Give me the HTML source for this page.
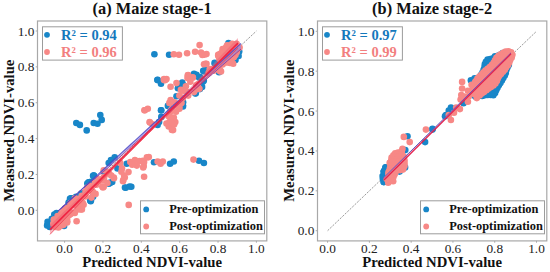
<!DOCTYPE html>
<html><head><meta charset="utf-8"><style>
html,body{margin:0;padding:0;background:#fff;}
svg{display:block;}
text{font-family:"Liberation Serif",serif;}
.tk{font-size:13.3px;fill:#222;}
.ti{font-size:16.4px;font-weight:bold;fill:#111;}
.al{font-size:14.7px;font-weight:bold;fill:#111;}
.lg{font-size:14.5px;font-weight:bold;}
.lp{font-size:12.4px;font-weight:bold;fill:#111;}
</style></head><body>
<svg width="550" height="272" viewBox="0 0 550 272">
<clipPath id="c0"><rect x="37.5" y="21.0" width="229.3" height="219.9"/></clipPath>
<g clip-path="url(#c0)">
<line x1="64.60" y1="210.30" x2="256.40" y2="31.00" stroke="#707070" stroke-width="0.7" stroke-dasharray="2.2,1.2"/>
<circle cx="228.5" cy="43.1" r="3.3" fill="#1886c8"/>
<circle cx="239.2" cy="51.5" r="3.3" fill="#1886c8"/>
<circle cx="238.6" cy="56" r="3.3" fill="#1886c8"/>
<circle cx="235.5" cy="60" r="3.3" fill="#1886c8"/>
<circle cx="214.6" cy="62.9" r="3.3" fill="#1886c8"/>
<circle cx="206.5" cy="70.3" r="3.3" fill="#1886c8"/>
<circle cx="169.1" cy="54.7" r="3.3" fill="#1886c8"/>
<circle cx="154.4" cy="54.3" r="3.3" fill="#1886c8"/>
<circle cx="203.2" cy="70.9" r="3.3" fill="#1886c8"/>
<circle cx="193.7" cy="75.3" r="3.3" fill="#1886c8"/>
<circle cx="200.3" cy="77.5" r="3.3" fill="#1886c8"/>
<circle cx="157.6" cy="79.7" r="3.3" fill="#1886c8"/>
<circle cx="157.4" cy="80.1" r="3.3" fill="#1886c8"/>
<circle cx="161" cy="83.8" r="3.3" fill="#1886c8"/>
<circle cx="161" cy="110.3" r="3.3" fill="#1886c8"/>
<circle cx="194" cy="73.7" r="3.3" fill="#1886c8"/>
<circle cx="199.1" cy="77.4" r="3.3" fill="#1886c8"/>
<circle cx="205" cy="71.5" r="3.3" fill="#1886c8"/>
<circle cx="202.8" cy="81.8" r="3.3" fill="#1886c8"/>
<circle cx="202.1" cy="86.9" r="3.3" fill="#1886c8"/>
<circle cx="199.9" cy="89.1" r="3.3" fill="#1886c8"/>
<circle cx="195.4" cy="93.5" r="3.3" fill="#1886c8"/>
<circle cx="182.2" cy="82.5" r="3.3" fill="#1886c8"/>
<circle cx="182.9" cy="84.7" r="3.3" fill="#1886c8"/>
<circle cx="182.9" cy="105.3" r="3.3" fill="#1886c8"/>
<circle cx="219" cy="72.2" r="3.3" fill="#1886c8"/>
<circle cx="183" cy="106.5" r="3.3" fill="#1886c8"/>
<circle cx="214.9" cy="63.8" r="3.3" fill="#1886c8"/>
<circle cx="204.6" cy="70.4" r="3.3" fill="#1886c8"/>
<circle cx="200.1" cy="77.1" r="3.3" fill="#1886c8"/>
<circle cx="196.5" cy="74.9" r="3.3" fill="#1886c8"/>
<circle cx="195.7" cy="93.2" r="3.3" fill="#1886c8"/>
<circle cx="203.8" cy="80.7" r="3.3" fill="#1886c8"/>
<circle cx="181.6" cy="84.6" r="3.3" fill="#1886c8"/>
<circle cx="184.6" cy="86" r="3.3" fill="#1886c8"/>
<circle cx="177.9" cy="88.2" r="3.3" fill="#1886c8"/>
<circle cx="176.5" cy="96.3" r="3.3" fill="#1886c8"/>
<circle cx="183.1" cy="102.2" r="3.3" fill="#1886c8"/>
<circle cx="168.4" cy="105.9" r="3.3" fill="#1886c8"/>
<circle cx="161.3" cy="110.3" r="3.3" fill="#1886c8"/>
<circle cx="161.3" cy="116.9" r="3.3" fill="#1886c8"/>
<circle cx="159.1" cy="122.1" r="3.3" fill="#1886c8"/>
<circle cx="157.6" cy="125" r="3.3" fill="#1886c8"/>
<circle cx="167.9" cy="105.9" r="3.3" fill="#1886c8"/>
<circle cx="154" cy="162.2" r="3.3" fill="#1886c8"/>
<circle cx="170.1" cy="163.7" r="3.3" fill="#1886c8"/>
<circle cx="173.8" cy="161.5" r="3.3" fill="#1886c8"/>
<circle cx="199" cy="160.7" r="3.3" fill="#1886c8"/>
<circle cx="203.9" cy="163" r="3.3" fill="#1886c8"/>
<circle cx="126.7" cy="163.8" r="3.3" fill="#1886c8"/>
<circle cx="125.7" cy="187.7" r="3.3" fill="#1886c8"/>
<circle cx="131.3" cy="186.8" r="3.3" fill="#1886c8"/>
<circle cx="110.1" cy="183.1" r="3.3" fill="#1886c8"/>
<circle cx="114.7" cy="157.4" r="3.3" fill="#1886c8"/>
<circle cx="111" cy="160.1" r="3.3" fill="#1886c8"/>
<circle cx="117.5" cy="168.4" r="3.3" fill="#1886c8"/>
<circle cx="108.7" cy="163" r="3.3" fill="#1886c8"/>
<circle cx="93.8" cy="175.5" r="3.3" fill="#1886c8"/>
<circle cx="90.1" cy="182" r="3.3" fill="#1886c8"/>
<circle cx="84.6" cy="193" r="3.3" fill="#1886c8"/>
<circle cx="91" cy="200.3" r="3.3" fill="#1886c8"/>
<circle cx="93.8" cy="194.8" r="3.3" fill="#1886c8"/>
<circle cx="109.4" cy="182.9" r="3.3" fill="#1886c8"/>
<circle cx="112.2" cy="182" r="3.3" fill="#1886c8"/>
<circle cx="125" cy="187.5" r="3.3" fill="#1886c8"/>
<circle cx="129.6" cy="186.5" r="3.3" fill="#1886c8"/>
<circle cx="93.1" cy="175.8" r="3.3" fill="#1886c8"/>
<circle cx="76.3" cy="123" r="3.3" fill="#1886c8"/>
<circle cx="79.9" cy="124.9" r="3.3" fill="#1886c8"/>
<circle cx="86.7" cy="130.4" r="3.3" fill="#1886c8"/>
<circle cx="93.7" cy="123" r="3.3" fill="#1886c8"/>
<circle cx="97.5" cy="123.8" r="3.3" fill="#1886c8"/>
<circle cx="100.3" cy="115" r="3.3" fill="#1886c8"/>
<circle cx="101.7" cy="119.9" r="3.3" fill="#1886c8"/>
<circle cx="47.6" cy="221.8" r="3.3" fill="#1886c8"/>
<circle cx="47.1" cy="225.4" r="3.3" fill="#1886c8"/>
<circle cx="49.7" cy="226.9" r="3.3" fill="#1886c8"/>
<circle cx="51.8" cy="218.9" r="3.3" fill="#1886c8"/>
<circle cx="54.3" cy="214.6" r="3.3" fill="#1886c8"/>
<circle cx="56.5" cy="213.1" r="3.3" fill="#1886c8"/>
<circle cx="64.9" cy="208.8" r="3.3" fill="#1886c8"/>
<circle cx="68.6" cy="202.5" r="3.3" fill="#1886c8"/>
<circle cx="64.1" cy="225.9" r="3.3" fill="#1886c8"/>
<circle cx="70" cy="198.9" r="3.3" fill="#1886c8"/>
<circle cx="70.8" cy="198.2" r="3.3" fill="#1886c8"/>
<circle cx="72" cy="198.3" r="3.3" fill="#1886c8"/>
<circle cx="76" cy="196.7" r="3.3" fill="#1886c8"/>
<circle cx="81.4" cy="193.5" r="3.3" fill="#1886c8"/>
<circle cx="82" cy="195.3" r="3.3" fill="#1886c8"/>
<circle cx="84.6" cy="193" r="3.3" fill="#1886c8"/>
<circle cx="90.2" cy="200.6" r="3.3" fill="#1886c8"/>
<circle cx="90.7" cy="201.2" r="3.3" fill="#1886c8"/>
<circle cx="93.1" cy="196.7" r="3.3" fill="#1886c8"/>
<circle cx="88.5" cy="182.4" r="3.3" fill="#1886c8"/>
<circle cx="87.3" cy="183.5" r="3.3" fill="#1886c8"/>
<circle cx="89.4" cy="182.9" r="3.3" fill="#1886c8"/>
<circle cx="90.1" cy="182" r="3.3" fill="#1886c8"/>
<circle cx="94" cy="176.4" r="3.3" fill="#1886c8"/>
<circle cx="93.8" cy="175.5" r="3.3" fill="#1886c8"/>
<circle cx="108.7" cy="183.8" r="3.3" fill="#1886c8"/>
<circle cx="104" cy="171.8" r="3.3" fill="#1886c8"/>
<circle cx="218.2" cy="54.9" r="3.3" fill="#f78886"/>
<circle cx="222.6" cy="49" r="3.3" fill="#f78886"/>
<circle cx="227.1" cy="45.3" r="3.3" fill="#f78886"/>
<circle cx="232.2" cy="43.8" r="3.3" fill="#f78886"/>
<circle cx="236.6" cy="43.8" r="3.3" fill="#f78886"/>
<circle cx="239.6" cy="47.5" r="3.3" fill="#f78886"/>
<circle cx="234.4" cy="49.7" r="3.3" fill="#f78886"/>
<circle cx="229.3" cy="51.2" r="3.3" fill="#f78886"/>
<circle cx="224.1" cy="54.1" r="3.3" fill="#f78886"/>
<circle cx="219.7" cy="58.5" r="3.3" fill="#f78886"/>
<circle cx="227.1" cy="57.1" r="3.3" fill="#f78886"/>
<circle cx="232.9" cy="55.6" r="3.3" fill="#f78886"/>
<circle cx="230" cy="62.9" r="3.3" fill="#f78886"/>
<circle cx="225.6" cy="62.2" r="3.3" fill="#f78886"/>
<circle cx="222.6" cy="64.4" r="3.3" fill="#f78886"/>
<circle cx="219.7" cy="69.6" r="3.3" fill="#f78886"/>
<circle cx="206.5" cy="54.1" r="3.3" fill="#f78886"/>
<circle cx="206.5" cy="63.7" r="3.3" fill="#f78886"/>
<circle cx="210.9" cy="69.6" r="3.3" fill="#f78886"/>
<circle cx="221" cy="71.4" r="3.3" fill="#f78886"/>
<circle cx="213.7" cy="69.5" r="3.3" fill="#f78886"/>
<circle cx="173.8" cy="54.3" r="3.3" fill="#f78886"/>
<circle cx="179" cy="54.7" r="3.3" fill="#f78886"/>
<circle cx="187.1" cy="53.2" r="3.3" fill="#f78886"/>
<circle cx="195.1" cy="51.8" r="3.3" fill="#f78886"/>
<circle cx="199.6" cy="45.1" r="3.3" fill="#f78886"/>
<circle cx="201" cy="52.5" r="3.3" fill="#f78886"/>
<circle cx="204" cy="54.7" r="3.3" fill="#f78886"/>
<circle cx="204" cy="64.3" r="3.3" fill="#f78886"/>
<circle cx="187.8" cy="75.3" r="3.3" fill="#f78886"/>
<circle cx="192.9" cy="77.5" r="3.3" fill="#f78886"/>
<circle cx="166.5" cy="79" r="3.3" fill="#f78886"/>
<circle cx="164" cy="79" r="3.3" fill="#f78886"/>
<circle cx="164" cy="80.1" r="3.3" fill="#f78886"/>
<circle cx="144.9" cy="110.3" r="3.3" fill="#f78886"/>
<circle cx="147.8" cy="108.8" r="3.3" fill="#f78886"/>
<circle cx="188.1" cy="75.1" r="3.3" fill="#f78886"/>
<circle cx="192.5" cy="77.4" r="3.3" fill="#f78886"/>
<circle cx="190.3" cy="81.8" r="3.3" fill="#f78886"/>
<circle cx="196.2" cy="85.4" r="3.3" fill="#f78886"/>
<circle cx="185.9" cy="86.2" r="3.3" fill="#f78886"/>
<circle cx="182.9" cy="90.6" r="3.3" fill="#f78886"/>
<circle cx="187.4" cy="92.1" r="3.3" fill="#f78886"/>
<circle cx="197.6" cy="89.1" r="3.3" fill="#f78886"/>
<circle cx="194" cy="92.1" r="3.3" fill="#f78886"/>
<circle cx="182.9" cy="97.9" r="3.3" fill="#f78886"/>
<circle cx="181.5" cy="103.1" r="3.3" fill="#f78886"/>
<circle cx="213.8" cy="70.7" r="3.3" fill="#f78886"/>
<circle cx="208.7" cy="72.9" r="3.3" fill="#f78886"/>
<circle cx="179.4" cy="108.7" r="3.3" fill="#f78886"/>
<circle cx="205.3" cy="63.8" r="3.3" fill="#f78886"/>
<circle cx="209.7" cy="69" r="3.3" fill="#f78886"/>
<circle cx="220" cy="71.2" r="3.3" fill="#f78886"/>
<circle cx="218.5" cy="66.8" r="3.3" fill="#f78886"/>
<circle cx="226.6" cy="61.6" r="3.3" fill="#f78886"/>
<circle cx="230.3" cy="59.4" r="3.3" fill="#f78886"/>
<circle cx="233.2" cy="63.8" r="3.3" fill="#f78886"/>
<circle cx="202.4" cy="55" r="3.3" fill="#f78886"/>
<circle cx="199.4" cy="88.8" r="3.3" fill="#f78886"/>
<circle cx="197.9" cy="84.4" r="3.3" fill="#f78886"/>
<circle cx="165.4" cy="80.1" r="3.3" fill="#f78886"/>
<circle cx="170.6" cy="86.8" r="3.3" fill="#f78886"/>
<circle cx="176.5" cy="83.1" r="3.3" fill="#f78886"/>
<circle cx="180.9" cy="89.7" r="3.3" fill="#f78886"/>
<circle cx="187.5" cy="77.9" r="3.3" fill="#f78886"/>
<circle cx="185.3" cy="91.2" r="3.3" fill="#f78886"/>
<circle cx="170.6" cy="100" r="3.3" fill="#f78886"/>
<circle cx="175" cy="102.9" r="3.3" fill="#f78886"/>
<circle cx="179.4" cy="105.9" r="3.3" fill="#f78886"/>
<circle cx="172.1" cy="108.8" r="3.3" fill="#f78886"/>
<circle cx="169.9" cy="112.5" r="3.3" fill="#f78886"/>
<circle cx="179.4" cy="95.6" r="3.3" fill="#f78886"/>
<circle cx="188.2" cy="95.6" r="3.3" fill="#f78886"/>
<circle cx="144.4" cy="110.3" r="3.3" fill="#f78886"/>
<circle cx="149.6" cy="122.1" r="3.3" fill="#f78886"/>
<circle cx="152.5" cy="124.3" r="3.3" fill="#f78886"/>
<circle cx="169.4" cy="102.9" r="3.3" fill="#f78886"/>
<circle cx="173.8" cy="102.2" r="3.3" fill="#f78886"/>
<circle cx="177.5" cy="105.9" r="3.3" fill="#f78886"/>
<circle cx="170.9" cy="110.3" r="3.3" fill="#f78886"/>
<circle cx="176" cy="111.8" r="3.3" fill="#f78886"/>
<circle cx="168.7" cy="116.2" r="3.3" fill="#f78886"/>
<circle cx="173.8" cy="117.6" r="3.3" fill="#f78886"/>
<circle cx="169.4" cy="122.1" r="3.3" fill="#f78886"/>
<circle cx="175.3" cy="122.1" r="3.3" fill="#f78886"/>
<circle cx="168.7" cy="126.5" r="3.3" fill="#f78886"/>
<circle cx="173.1" cy="130.1" r="3.3" fill="#f78886"/>
<circle cx="166.5" cy="123.5" r="3.3" fill="#f78886"/>
<circle cx="149.9" cy="122.6" r="3.3" fill="#f78886"/>
<circle cx="170.8" cy="122.2" r="3.3" fill="#f78886"/>
<circle cx="174.1" cy="124.4" r="3.3" fill="#f78886"/>
<circle cx="171.9" cy="129.9" r="3.3" fill="#f78886"/>
<circle cx="148.8" cy="157.1" r="3.3" fill="#f78886"/>
<circle cx="142.9" cy="160.7" r="3.3" fill="#f78886"/>
<circle cx="143.7" cy="165.9" r="3.3" fill="#f78886"/>
<circle cx="157.6" cy="161.5" r="3.3" fill="#f78886"/>
<circle cx="160.6" cy="163.7" r="3.3" fill="#f78886"/>
<circle cx="162.8" cy="161.5" r="3.3" fill="#f78886"/>
<circle cx="193.5" cy="159.6" r="3.3" fill="#f78886"/>
<circle cx="130.3" cy="162" r="3.3" fill="#f78886"/>
<circle cx="134.9" cy="160.1" r="3.3" fill="#f78886"/>
<circle cx="139.5" cy="161" r="3.3" fill="#f78886"/>
<circle cx="144.1" cy="162" r="3.3" fill="#f78886"/>
<circle cx="146.9" cy="157.4" r="3.3" fill="#f78886"/>
<circle cx="136.8" cy="165.6" r="3.3" fill="#f78886"/>
<circle cx="143.2" cy="167.5" r="3.3" fill="#f78886"/>
<circle cx="132.2" cy="164.7" r="3.3" fill="#f78886"/>
<circle cx="128.5" cy="172.1" r="3.3" fill="#f78886"/>
<circle cx="124.8" cy="177.6" r="3.3" fill="#f78886"/>
<circle cx="123" cy="181.3" r="3.3" fill="#f78886"/>
<circle cx="144.1" cy="176.7" r="3.3" fill="#f78886"/>
<circle cx="122" cy="168.4" r="3.3" fill="#f78886"/>
<circle cx="120.2" cy="162.9" r="3.3" fill="#f78886"/>
<circle cx="103.7" cy="170.2" r="3.3" fill="#f78886"/>
<circle cx="109.2" cy="173.9" r="3.3" fill="#f78886"/>
<circle cx="113.8" cy="177.6" r="3.3" fill="#f78886"/>
<circle cx="103.7" cy="180.3" r="3.3" fill="#f78886"/>
<circle cx="107.4" cy="183.1" r="3.3" fill="#f78886"/>
<circle cx="103.7" cy="186.8" r="3.3" fill="#f78886"/>
<circle cx="87.4" cy="187.5" r="3.3" fill="#f78886"/>
<circle cx="91" cy="190.2" r="3.3" fill="#f78886"/>
<circle cx="96.5" cy="184.7" r="3.3" fill="#f78886"/>
<circle cx="99.3" cy="181" r="3.3" fill="#f78886"/>
<circle cx="103" cy="187.5" r="3.3" fill="#f78886"/>
<circle cx="103.9" cy="177.4" r="3.3" fill="#f78886"/>
<circle cx="107.6" cy="171.8" r="3.3" fill="#f78886"/>
<circle cx="111.3" cy="175.5" r="3.3" fill="#f78886"/>
<circle cx="114" cy="178.3" r="3.3" fill="#f78886"/>
<circle cx="123.2" cy="180.1" r="3.3" fill="#f78886"/>
<circle cx="124.1" cy="175.5" r="3.3" fill="#f78886"/>
<circle cx="121.4" cy="171.8" r="3.3" fill="#f78886"/>
<circle cx="95.6" cy="193.9" r="3.3" fill="#f78886"/>
<circle cx="81.8" cy="195.7" r="3.3" fill="#f78886"/>
<circle cx="82.8" cy="203.1" r="3.3" fill="#f78886"/>
<circle cx="81.8" cy="208.6" r="3.3" fill="#f78886"/>
<circle cx="128.7" cy="204.9" r="3.3" fill="#f78886"/>
<circle cx="53.8" cy="219.7" r="3.3" fill="#f78886"/>
<circle cx="53.3" cy="223.8" r="3.3" fill="#f78886"/>
<circle cx="55.3" cy="226.9" r="3.3" fill="#f78886"/>
<circle cx="57.4" cy="222.3" r="3.3" fill="#f78886"/>
<circle cx="59.4" cy="219.2" r="3.3" fill="#f78886"/>
<circle cx="62.5" cy="216.1" r="3.3" fill="#f78886"/>
<circle cx="65.6" cy="214.1" r="3.3" fill="#f78886"/>
<circle cx="68.7" cy="215.1" r="3.3" fill="#f78886"/>
<circle cx="61.5" cy="225.4" r="3.3" fill="#f78886"/>
<circle cx="64.6" cy="222.3" r="3.3" fill="#f78886"/>
<circle cx="67.1" cy="218.7" r="3.3" fill="#f78886"/>
<circle cx="70.7" cy="214.1" r="3.3" fill="#f78886"/>
<circle cx="58.4" cy="227.4" r="3.3" fill="#f78886"/>
<circle cx="54.1" cy="219.5" r="3.3" fill="#f78886"/>
<circle cx="57.6" cy="216" r="3.3" fill="#f78886"/>
<circle cx="61.2" cy="213.6" r="3.3" fill="#f78886"/>
<circle cx="63.5" cy="210.7" r="3.3" fill="#f78886"/>
<circle cx="65.3" cy="208.4" r="3.3" fill="#f78886"/>
<circle cx="67.6" cy="207.8" r="3.3" fill="#f78886"/>
<circle cx="70.6" cy="203.1" r="3.3" fill="#f78886"/>
<circle cx="55.3" cy="224.2" r="3.3" fill="#f78886"/>
<circle cx="58.8" cy="221.9" r="3.3" fill="#f78886"/>
<circle cx="62.4" cy="219.5" r="3.3" fill="#f78886"/>
<circle cx="65.9" cy="217.2" r="3.3" fill="#f78886"/>
<circle cx="69.4" cy="214.8" r="3.3" fill="#f78886"/>
<circle cx="58.8" cy="226.6" r="3.3" fill="#f78886"/>
<circle cx="63.5" cy="224.8" r="3.3" fill="#f78886"/>
<circle cx="67.1" cy="222.5" r="3.3" fill="#f78886"/>
<circle cx="74.9" cy="198.2" r="3.3" fill="#f78886"/>
<circle cx="78.5" cy="198.8" r="3.3" fill="#f78886"/>
<circle cx="72.6" cy="201.8" r="3.3" fill="#f78886"/>
<circle cx="76.1" cy="202.9" r="3.3" fill="#f78886"/>
<circle cx="81.4" cy="201.8" r="3.3" fill="#f78886"/>
<circle cx="71.4" cy="205.3" r="3.3" fill="#f78886"/>
<circle cx="77.3" cy="205.9" r="3.3" fill="#f78886"/>
<circle cx="82.6" cy="204.7" r="3.3" fill="#f78886"/>
<circle cx="65.5" cy="208.8" r="3.3" fill="#f78886"/>
<circle cx="69.1" cy="210.6" r="3.3" fill="#f78886"/>
<circle cx="80.8" cy="209.4" r="3.3" fill="#f78886"/>
<circle cx="85.5" cy="191.8" r="3.3" fill="#f78886"/>
<circle cx="87.9" cy="188.2" r="3.3" fill="#f78886"/>
<circle cx="90.2" cy="185.9" r="3.3" fill="#f78886"/>
<circle cx="85.5" cy="196.5" r="3.3" fill="#f78886"/>
<circle cx="92.6" cy="191.8" r="3.3" fill="#f78886"/>
<circle cx="91.4" cy="197.6" r="3.3" fill="#f78886"/>
<circle cx="76.6" cy="221.2" r="3.3" fill="#f78886"/>
<circle cx="70.7" cy="203.5" r="3.3" fill="#f78886"/>
<circle cx="75.4" cy="204.7" r="3.3" fill="#f78886"/>
<circle cx="80.1" cy="202.4" r="3.3" fill="#f78886"/>
<circle cx="83.6" cy="204.7" r="3.3" fill="#f78886"/>
<circle cx="81.9" cy="209.4" r="3.3" fill="#f78886"/>
<circle cx="77.8" cy="209.4" r="3.3" fill="#f78886"/>
<circle cx="74.8" cy="212.9" r="3.3" fill="#f78886"/>
<circle cx="70.7" cy="212.9" r="3.3" fill="#f78886"/>
<circle cx="67.2" cy="215.3" r="3.3" fill="#f78886"/>
<circle cx="67.2" cy="221.2" r="3.3" fill="#f78886"/>
<circle cx="87.6" cy="190.2" r="3.3" fill="#f78886"/>
<circle cx="93" cy="192" r="3.3" fill="#f78886"/>
<circle cx="90.3" cy="187.5" r="3.3" fill="#f78886"/>
<circle cx="95" cy="182.9" r="3.3" fill="#f78886"/>
<circle cx="98.6" cy="179.2" r="3.3" fill="#f78886"/>
<circle cx="102.3" cy="186.5" r="3.3" fill="#f78886"/>
<circle cx="104" cy="177.4" r="3.3" fill="#f78886"/>
<circle cx="218.2" cy="55.8" r="3.3" fill="#f78886"/>
<circle cx="219.3" cy="58.5" r="3.3" fill="#f78886"/>
<circle cx="221.6" cy="60.3" r="3.3" fill="#f78886"/>
<circle cx="224.1" cy="61.8" r="3.3" fill="#f78886"/>
<circle cx="226.9" cy="62.4" r="3.3" fill="#f78886"/>
<circle cx="229.3" cy="61.1" r="3.3" fill="#f78886"/>
<circle cx="231.6" cy="59.2" r="3.3" fill="#f78886"/>
<circle cx="233.8" cy="57.3" r="3.3" fill="#f78886"/>
<circle cx="235.4" cy="54.9" r="3.3" fill="#f78886"/>
<circle cx="236.7" cy="52.3" r="3.3" fill="#f78886"/>
<circle cx="237.1" cy="49.5" r="3.3" fill="#f78886"/>
<circle cx="236.3" cy="46.7" r="3.3" fill="#f78886"/>
<circle cx="234.2" cy="45.1" r="3.3" fill="#f78886"/>
<circle cx="231.3" cy="45.1" r="3.3" fill="#f78886"/>
<circle cx="228.4" cy="45.5" r="3.3" fill="#f78886"/>
<circle cx="226.1" cy="47.3" r="3.3" fill="#f78886"/>
<circle cx="224.1" cy="49.4" r="3.3" fill="#f78886"/>
<circle cx="222.3" cy="51.7" r="3.3" fill="#f78886"/>
<circle cx="220.2" cy="53.8" r="3.3" fill="#f78886"/>
<circle cx="229.9" cy="47.2" r="3.3" fill="#f78886"/>
<circle cx="232.5" cy="47.2" r="3.3" fill="#f78886"/>
<circle cx="228.6" cy="49.4" r="3.3" fill="#f78886"/>
<circle cx="231.2" cy="49.4" r="3.3" fill="#f78886"/>
<circle cx="233.8" cy="49.4" r="3.3" fill="#f78886"/>
<circle cx="224.7" cy="51.7" r="3.3" fill="#f78886"/>
<circle cx="227.3" cy="51.7" r="3.3" fill="#f78886"/>
<circle cx="229.9" cy="51.7" r="3.3" fill="#f78886"/>
<circle cx="232.5" cy="51.7" r="3.3" fill="#f78886"/>
<circle cx="235.1" cy="51.7" r="3.3" fill="#f78886"/>
<circle cx="223.4" cy="53.9" r="3.3" fill="#f78886"/>
<circle cx="226.0" cy="53.9" r="3.3" fill="#f78886"/>
<circle cx="228.6" cy="53.9" r="3.3" fill="#f78886"/>
<circle cx="231.2" cy="53.9" r="3.3" fill="#f78886"/>
<circle cx="233.8" cy="53.9" r="3.3" fill="#f78886"/>
<circle cx="222.1" cy="56.2" r="3.3" fill="#f78886"/>
<circle cx="224.7" cy="56.2" r="3.3" fill="#f78886"/>
<circle cx="227.3" cy="56.2" r="3.3" fill="#f78886"/>
<circle cx="229.9" cy="56.2" r="3.3" fill="#f78886"/>
<circle cx="232.5" cy="56.2" r="3.3" fill="#f78886"/>
<circle cx="223.4" cy="58.4" r="3.3" fill="#f78886"/>
<circle cx="226.0" cy="58.4" r="3.3" fill="#f78886"/>
<circle cx="228.6" cy="58.4" r="3.3" fill="#f78886"/>
<circle cx="227.3" cy="60.7" r="3.3" fill="#f78886"/>
<polygon points="58.00,211.13 62.58,206.94 67.15,202.74 71.72,198.55 76.30,194.36 80.88,190.16 85.45,185.97 90.03,181.77 94.60,177.58 99.17,173.39 103.75,169.19 108.33,165.00 112.90,160.80 117.47,156.61 122.05,152.42 126.62,148.22 131.20,144.03 135.78,139.84 140.35,135.64 144.93,131.45 149.50,127.25 154.07,123.06 158.65,118.87 163.22,114.67 167.80,110.48 172.38,106.28 176.95,102.09 181.53,97.90 186.10,93.70 190.68,89.51 195.25,85.31 199.82,81.12 204.40,76.93 208.97,72.73 213.55,68.54 218.12,64.34 222.70,60.15 227.28,55.96 231.85,51.76 236.43,47.57 241.00,43.38 241.00,49.06 236.43,53.05 231.85,57.04 227.28,61.04 222.70,65.04 218.12,69.04 213.55,73.04 208.97,77.05 204.40,81.07 199.82,85.08 195.25,89.11 190.68,93.14 186.10,97.18 181.53,101.22 176.95,105.28 172.38,109.35 167.80,113.43 163.22,117.52 158.65,121.63 154.07,125.75 149.50,129.90 144.93,134.06 140.35,138.24 135.78,142.44 131.20,146.63 126.62,150.82 122.05,155.02 117.47,159.21 112.90,163.40 108.33,167.60 103.75,171.33 99.17,175.03 94.60,178.73 90.03,182.43 85.45,186.13 80.88,190.16 76.30,194.36 71.72,198.55 67.15,202.74 62.58,206.94 58.00,211.13" fill="#8888e4" fill-opacity="0.6"/>
<polygon points="50.00,224.93 54.70,220.49 59.40,216.05 64.10,211.60 68.80,207.15 73.50,202.70 78.20,198.25 82.90,193.80 87.60,189.34 92.30,184.87 97.00,180.41 101.70,175.93 106.40,171.45 111.10,166.95 115.80,162.44 120.50,157.91 125.20,153.37 129.90,148.79 134.60,144.19 139.30,139.54 144.00,134.87 148.70,130.15 153.40,125.41 158.10,120.63 162.80,115.84 167.50,111.02 172.20,106.19 176.90,101.35 181.60,96.50 186.30,91.64 191.00,86.77 195.70,81.90 200.40,77.03 205.10,72.15 209.80,67.27 214.50,62.39 219.20,57.51 223.90,52.62 228.60,47.74 233.30,42.85 238.00,37.96 238.00,48.21 233.30,52.65 228.60,57.09 223.90,61.53 219.20,65.98 214.50,70.42 209.80,74.87 205.10,79.32 200.40,83.78 195.70,88.23 191.00,92.69 186.30,97.16 181.60,101.63 176.90,106.10 172.20,110.59 167.50,115.09 162.80,119.61 158.10,124.14 153.40,128.69 148.70,133.28 144.00,137.89 139.30,142.55 134.60,147.23 129.90,151.96 125.20,156.71 120.50,161.49 115.80,166.30 111.10,171.12 106.40,175.95 101.70,180.80 97.00,185.65 92.30,190.51 87.60,195.38 82.90,200.25 78.20,205.12 73.50,210.00 68.80,214.88 64.10,219.76 59.40,224.65 54.70,229.53 50.00,234.42" fill="#f06070" fill-opacity="0.45"/>
<polyline points="58.00,211.13 62.58,206.94 67.15,202.74 71.72,198.55 76.30,194.36 80.88,190.16 85.45,186.13 90.03,182.43 94.60,178.73 99.17,175.03 103.75,171.33 108.33,167.60 112.90,163.40 117.47,159.21 122.05,155.02 126.62,150.82 131.20,146.63 135.78,142.44 140.35,138.24 144.93,134.06 149.50,129.90 154.07,125.75 158.65,121.63 163.22,117.52 167.80,113.43 172.38,109.35 176.95,105.28 181.53,101.22 186.10,97.18 190.68,93.14 195.25,89.11 199.82,85.08 204.40,81.07 208.97,77.05 213.55,73.04 218.12,69.04 222.70,65.04 227.28,61.04 231.85,57.04 236.43,53.05 241.00,49.06" fill="none" stroke="#9a3490" stroke-width="1" stroke-opacity="0.85"/>
<polyline points="50.00,234.42 54.70,229.53 59.40,224.65 64.10,219.76 68.80,214.88 73.50,210.00 78.20,205.12 82.90,200.25 87.60,195.38 92.30,190.51 97.00,185.65 101.70,180.80 106.40,175.95 111.10,171.12 115.80,166.30 120.50,161.49 125.20,156.71 129.90,151.96 134.60,147.23 139.30,142.55 144.00,137.89 148.70,133.28 153.40,128.69 158.10,124.14 162.80,119.61 167.50,115.09 172.20,110.59 176.90,106.10 181.60,101.63 186.30,97.16 191.00,92.69 195.70,88.23 200.40,83.78 205.10,79.32 209.80,74.87 214.50,70.42 219.20,65.98 223.90,61.53 228.60,57.09 233.30,52.65 238.00,48.21" fill="none" stroke="#f03a50" stroke-width="0.9" stroke-opacity="0.8"/>
<polyline points="58.00,211.13 62.58,206.94 67.15,202.74 71.72,198.55 76.30,194.36 80.88,190.16 85.45,185.97 90.03,181.77 94.60,177.58 99.17,173.39 103.75,169.19 108.33,165.00 112.90,160.80 117.47,156.61 122.05,152.42 126.62,148.22 131.20,144.03 135.78,139.84 140.35,135.64 144.93,131.45 149.50,127.25 154.07,123.06 158.65,118.87 163.22,114.67 167.80,110.48 172.38,106.28 176.95,102.09 181.53,97.90 186.10,93.70 190.68,89.51 195.25,85.31 199.82,81.12 204.40,76.93 208.97,72.73 213.55,68.54 218.12,64.34 222.70,60.15 227.28,55.96 231.85,51.76 236.43,47.57 241.00,43.38" fill="none" stroke="#4a44c4" stroke-width="1.2" stroke-opacity="0.8"/>
<polyline points="50.00,229.68 54.70,225.01 59.40,220.35 64.10,215.68 68.80,211.02 73.50,206.35 78.20,201.69 82.90,197.02 87.60,192.36 92.30,187.69 97.00,183.03 101.70,178.36 106.40,173.70 111.10,169.03 115.80,164.37 120.50,159.70 125.20,155.04 129.90,150.37 134.60,145.71 139.30,141.04 144.00,136.38 148.70,131.72 153.40,127.05 158.10,122.39 162.80,117.72 167.50,113.06 172.20,108.39 176.90,103.73 181.60,99.06 186.30,94.40 191.00,89.73 195.70,85.07 200.40,80.40 205.10,75.74 209.80,71.07 214.50,66.41 219.20,61.74 223.90,57.08 228.60,52.41 233.30,47.75 238.00,43.09" fill="none" stroke="#ee1c3c" stroke-width="1.7" stroke-opacity="0.9"/>
</g>
<rect x="37.5" y="21.0" width="229.30" height="219.90" fill="none" stroke="#a8a8a8" stroke-width="1.2"/>
<line x1="64.60" y1="240.9" x2="64.60" y2="242.70000000000002" stroke="#a8a8a8" stroke-width="1"/>
<text x="64.60" y="253.2" class="tk" text-anchor="middle">0.0</text>
<line x1="102.96" y1="240.9" x2="102.96" y2="242.70000000000002" stroke="#a8a8a8" stroke-width="1"/>
<text x="102.96" y="253.2" class="tk" text-anchor="middle">0.2</text>
<line x1="141.32" y1="240.9" x2="141.32" y2="242.70000000000002" stroke="#a8a8a8" stroke-width="1"/>
<text x="141.32" y="253.2" class="tk" text-anchor="middle">0.4</text>
<line x1="179.68" y1="240.9" x2="179.68" y2="242.70000000000002" stroke="#a8a8a8" stroke-width="1"/>
<text x="179.68" y="253.2" class="tk" text-anchor="middle">0.6</text>
<line x1="218.04" y1="240.9" x2="218.04" y2="242.70000000000002" stroke="#a8a8a8" stroke-width="1"/>
<text x="218.04" y="253.2" class="tk" text-anchor="middle">0.8</text>
<line x1="256.40" y1="240.9" x2="256.40" y2="242.70000000000002" stroke="#a8a8a8" stroke-width="1"/>
<text x="256.40" y="253.2" class="tk" text-anchor="middle">1.0</text>
<line x1="35.7" y1="210.30" x2="37.5" y2="210.30" stroke="#a8a8a8" stroke-width="1"/>
<text x="34.3" y="214.80" class="tk" text-anchor="end">0.0</text>
<line x1="35.7" y1="174.44" x2="37.5" y2="174.44" stroke="#a8a8a8" stroke-width="1"/>
<text x="34.3" y="178.94" class="tk" text-anchor="end">0.2</text>
<line x1="35.7" y1="138.58" x2="37.5" y2="138.58" stroke="#a8a8a8" stroke-width="1"/>
<text x="34.3" y="143.08" class="tk" text-anchor="end">0.4</text>
<line x1="35.7" y1="102.72" x2="37.5" y2="102.72" stroke="#a8a8a8" stroke-width="1"/>
<text x="34.3" y="107.22" class="tk" text-anchor="end">0.6</text>
<line x1="35.7" y1="66.86" x2="37.5" y2="66.86" stroke="#a8a8a8" stroke-width="1"/>
<text x="34.3" y="71.36" class="tk" text-anchor="end">0.8</text>
<line x1="35.7" y1="31.00" x2="37.5" y2="31.00" stroke="#a8a8a8" stroke-width="1"/>
<text x="34.3" y="35.50" class="tk" text-anchor="end">1.0</text>
<text x="152.15" y="14.3" class="ti" text-anchor="middle">(a) Maize stage-1</text>
<text x="152.15" y="266.6" class="al" text-anchor="middle">Predicted NDVI-value</text>
<rect x="42.5" y="26.8" width="79.9" height="33.3" fill="#fff" fill-opacity="0.85" stroke="#9c9c9c" stroke-width="1"/>
<circle cx="47" cy="34.8" r="2.9" fill="#1886c8"/>
<circle cx="47" cy="52" r="2.9" fill="#f78886"/>
<text x="61.1" y="39.7" class="lg" fill="#1478bc">R² = 0.94</text>
<text x="61.1" y="56.7" class="lg" fill="#f27f7f">R² = 0.96</text>
<rect x="140.5" y="200.8" width="124" height="33" fill="#fff" fill-opacity="0.85" stroke="#9c9c9c" stroke-width="1"/>
<circle cx="146.2" cy="209.4" r="2.9" fill="#1886c8"/>
<circle cx="146.2" cy="226.5" r="2.9" fill="#f78886"/>
<text x="169.2" y="212.6" class="lp">Pre-optimization</text>
<text x="169.2" y="230.0" class="lp">Post-optimization</text>
<clipPath id="c280"><rect x="317.5" y="21.0" width="229.29999999999995" height="219.9"/></clipPath>
<g clip-path="url(#c280)">
<line x1="327.60" y1="230.70" x2="536.50" y2="31.30" stroke="#707070" stroke-width="0.7" stroke-dasharray="2.2,1.2"/>
<circle cx="445" cy="116.3" r="3.3" fill="#1886c8"/>
<circle cx="432.5" cy="129.6" r="3.3" fill="#1886c8"/>
<circle cx="407.5" cy="136.2" r="3.3" fill="#1886c8"/>
<circle cx="425.1" cy="142.1" r="3.3" fill="#1886c8"/>
<circle cx="432.5" cy="128.8" r="3.3" fill="#1886c8"/>
<circle cx="405.3" cy="150.1" r="3.3" fill="#1886c8"/>
<circle cx="385.6" cy="167.2" r="3.3" fill="#1886c8"/>
<circle cx="384.1" cy="170.9" r="3.3" fill="#1886c8"/>
<circle cx="382.6" cy="176" r="3.3" fill="#1886c8"/>
<circle cx="398.1" cy="170.1" r="3.3" fill="#1886c8"/>
<circle cx="399.6" cy="171.6" r="3.3" fill="#1886c8"/>
<circle cx="385.9" cy="167.2" r="3.3" fill="#1886c8"/>
<circle cx="383.7" cy="171.6" r="3.3" fill="#1886c8"/>
<circle cx="382.9" cy="179" r="3.3" fill="#1886c8"/>
<circle cx="383.7" cy="181.9" r="3.3" fill="#1886c8"/>
<circle cx="385.3" cy="168.1" r="3.3" fill="#1886c8"/>
<circle cx="383.8" cy="171.8" r="3.3" fill="#1886c8"/>
<circle cx="383.1" cy="178.4" r="3.3" fill="#1886c8"/>
<circle cx="383.8" cy="182.1" r="3.3" fill="#1886c8"/>
<circle cx="405.1" cy="167.4" r="3.3" fill="#1886c8"/>
<circle cx="470.9" cy="80.4" r="3.3" fill="#1886c8"/>
<circle cx="474.6" cy="78.2" r="3.3" fill="#1886c8"/>
<circle cx="479" cy="78.9" r="3.3" fill="#1886c8"/>
<circle cx="475.3" cy="96.6" r="3.3" fill="#1886c8"/>
<circle cx="463.5" cy="103.2" r="3.3" fill="#1886c8"/>
<circle cx="451" cy="107.6" r="3.3" fill="#1886c8"/>
<circle cx="448.8" cy="110.6" r="3.3" fill="#1886c8"/>
<circle cx="445.9" cy="115" r="3.3" fill="#1886c8"/>
<circle cx="473.0" cy="86.6" r="3.3" fill="#1886c8"/>
<circle cx="473.0" cy="89.4" r="3.3" fill="#1886c8"/>
<circle cx="473.0" cy="92.3" r="3.3" fill="#1886c8"/>
<circle cx="473.8" cy="94.8" r="3.3" fill="#1886c8"/>
<circle cx="476.5" cy="95.6" r="3.3" fill="#1886c8"/>
<circle cx="479.3" cy="95.9" r="3.3" fill="#1886c8"/>
<circle cx="482.2" cy="95.9" r="3.3" fill="#1886c8"/>
<circle cx="484.9" cy="95.2" r="3.3" fill="#1886c8"/>
<circle cx="487.7" cy="94.9" r="3.3" fill="#1886c8"/>
<circle cx="490.6" cy="95.0" r="3.3" fill="#1886c8"/>
<circle cx="493.4" cy="95.2" r="3.3" fill="#1886c8"/>
<circle cx="495.1" cy="93.0" r="3.3" fill="#1886c8"/>
<circle cx="496.2" cy="90.3" r="3.3" fill="#1886c8"/>
<circle cx="497.5" cy="87.8" r="3.3" fill="#1886c8"/>
<circle cx="498.9" cy="85.3" r="3.3" fill="#1886c8"/>
<circle cx="500.4" cy="82.9" r="3.3" fill="#1886c8"/>
<circle cx="501.9" cy="80.4" r="3.3" fill="#1886c8"/>
<circle cx="503.3" cy="78.0" r="3.3" fill="#1886c8"/>
<circle cx="504.8" cy="75.5" r="3.3" fill="#1886c8"/>
<circle cx="505.8" cy="72.9" r="3.3" fill="#1886c8"/>
<circle cx="506.4" cy="70.1" r="3.3" fill="#1886c8"/>
<circle cx="507.5" cy="67.5" r="3.3" fill="#1886c8"/>
<circle cx="508.8" cy="65.0" r="3.3" fill="#1886c8"/>
<circle cx="508.9" cy="62.1" r="3.3" fill="#1886c8"/>
<circle cx="508.9" cy="59.3" r="3.3" fill="#1886c8"/>
<circle cx="508.6" cy="56.4" r="3.3" fill="#1886c8"/>
<circle cx="507.9" cy="53.9" r="3.3" fill="#1886c8"/>
<circle cx="505.3" cy="52.7" r="3.3" fill="#1886c8"/>
<circle cx="502.7" cy="53.1" r="3.3" fill="#1886c8"/>
<circle cx="500.3" cy="54.7" r="3.3" fill="#1886c8"/>
<circle cx="497.7" cy="55.8" r="3.3" fill="#1886c8"/>
<circle cx="495.0" cy="56.4" r="3.3" fill="#1886c8"/>
<circle cx="493.0" cy="58.4" r="3.3" fill="#1886c8"/>
<circle cx="490.3" cy="59.0" r="3.3" fill="#1886c8"/>
<circle cx="487.6" cy="59.6" r="3.3" fill="#1886c8"/>
<circle cx="485.9" cy="61.8" r="3.3" fill="#1886c8"/>
<circle cx="484.8" cy="64.4" r="3.3" fill="#1886c8"/>
<circle cx="484.5" cy="67.2" r="3.3" fill="#1886c8"/>
<circle cx="483.6" cy="69.9" r="3.3" fill="#1886c8"/>
<circle cx="482.5" cy="72.6" r="3.3" fill="#1886c8"/>
<circle cx="481.0" cy="75.0" r="3.3" fill="#1886c8"/>
<circle cx="479.4" cy="77.4" r="3.3" fill="#1886c8"/>
<circle cx="477.6" cy="79.6" r="3.3" fill="#1886c8"/>
<circle cx="475.6" cy="81.6" r="3.3" fill="#1886c8"/>
<circle cx="474.1" cy="83.9" r="3.3" fill="#1886c8"/>
<circle cx="505.5" cy="54.5" r="3.3" fill="#1886c8"/>
<circle cx="501.6" cy="56.8" r="3.3" fill="#1886c8"/>
<circle cx="504.2" cy="56.8" r="3.3" fill="#1886c8"/>
<circle cx="506.8" cy="56.8" r="3.3" fill="#1886c8"/>
<circle cx="495.1" cy="59.1" r="3.3" fill="#1886c8"/>
<circle cx="497.7" cy="59.1" r="3.3" fill="#1886c8"/>
<circle cx="500.3" cy="59.1" r="3.3" fill="#1886c8"/>
<circle cx="502.9" cy="59.1" r="3.3" fill="#1886c8"/>
<circle cx="505.5" cy="59.1" r="3.3" fill="#1886c8"/>
<circle cx="488.6" cy="61.3" r="3.3" fill="#1886c8"/>
<circle cx="491.2" cy="61.3" r="3.3" fill="#1886c8"/>
<circle cx="493.8" cy="61.3" r="3.3" fill="#1886c8"/>
<circle cx="496.4" cy="61.3" r="3.3" fill="#1886c8"/>
<circle cx="499.0" cy="61.3" r="3.3" fill="#1886c8"/>
<circle cx="501.6" cy="61.3" r="3.3" fill="#1886c8"/>
<circle cx="504.2" cy="61.3" r="3.3" fill="#1886c8"/>
<circle cx="506.8" cy="61.3" r="3.3" fill="#1886c8"/>
<circle cx="487.3" cy="63.6" r="3.3" fill="#1886c8"/>
<circle cx="489.9" cy="63.6" r="3.3" fill="#1886c8"/>
<circle cx="492.5" cy="63.6" r="3.3" fill="#1886c8"/>
<circle cx="495.1" cy="63.6" r="3.3" fill="#1886c8"/>
<circle cx="497.7" cy="63.6" r="3.3" fill="#1886c8"/>
<circle cx="500.3" cy="63.6" r="3.3" fill="#1886c8"/>
<circle cx="502.9" cy="63.6" r="3.3" fill="#1886c8"/>
<circle cx="505.5" cy="63.6" r="3.3" fill="#1886c8"/>
<circle cx="488.6" cy="65.8" r="3.3" fill="#1886c8"/>
<circle cx="491.2" cy="65.8" r="3.3" fill="#1886c8"/>
<circle cx="493.8" cy="65.8" r="3.3" fill="#1886c8"/>
<circle cx="496.4" cy="65.8" r="3.3" fill="#1886c8"/>
<circle cx="499.0" cy="65.8" r="3.3" fill="#1886c8"/>
<circle cx="501.6" cy="65.8" r="3.3" fill="#1886c8"/>
<circle cx="504.2" cy="65.8" r="3.3" fill="#1886c8"/>
<circle cx="487.3" cy="68.1" r="3.3" fill="#1886c8"/>
<circle cx="489.9" cy="68.1" r="3.3" fill="#1886c8"/>
<circle cx="492.5" cy="68.1" r="3.3" fill="#1886c8"/>
<circle cx="495.1" cy="68.1" r="3.3" fill="#1886c8"/>
<circle cx="497.7" cy="68.1" r="3.3" fill="#1886c8"/>
<circle cx="500.3" cy="68.1" r="3.3" fill="#1886c8"/>
<circle cx="502.9" cy="68.1" r="3.3" fill="#1886c8"/>
<circle cx="505.5" cy="68.1" r="3.3" fill="#1886c8"/>
<circle cx="486.0" cy="70.3" r="3.3" fill="#1886c8"/>
<circle cx="488.6" cy="70.3" r="3.3" fill="#1886c8"/>
<circle cx="491.2" cy="70.3" r="3.3" fill="#1886c8"/>
<circle cx="493.8" cy="70.3" r="3.3" fill="#1886c8"/>
<circle cx="496.4" cy="70.3" r="3.3" fill="#1886c8"/>
<circle cx="499.0" cy="70.3" r="3.3" fill="#1886c8"/>
<circle cx="501.6" cy="70.3" r="3.3" fill="#1886c8"/>
<circle cx="504.2" cy="70.3" r="3.3" fill="#1886c8"/>
<circle cx="484.7" cy="72.6" r="3.3" fill="#1886c8"/>
<circle cx="487.3" cy="72.6" r="3.3" fill="#1886c8"/>
<circle cx="489.9" cy="72.6" r="3.3" fill="#1886c8"/>
<circle cx="492.5" cy="72.6" r="3.3" fill="#1886c8"/>
<circle cx="495.1" cy="72.6" r="3.3" fill="#1886c8"/>
<circle cx="497.7" cy="72.6" r="3.3" fill="#1886c8"/>
<circle cx="500.3" cy="72.6" r="3.3" fill="#1886c8"/>
<circle cx="502.9" cy="72.6" r="3.3" fill="#1886c8"/>
<circle cx="483.4" cy="74.8" r="3.3" fill="#1886c8"/>
<circle cx="486.0" cy="74.8" r="3.3" fill="#1886c8"/>
<circle cx="488.6" cy="74.8" r="3.3" fill="#1886c8"/>
<circle cx="491.2" cy="74.8" r="3.3" fill="#1886c8"/>
<circle cx="493.8" cy="74.8" r="3.3" fill="#1886c8"/>
<circle cx="496.4" cy="74.8" r="3.3" fill="#1886c8"/>
<circle cx="499.0" cy="74.8" r="3.3" fill="#1886c8"/>
<circle cx="501.6" cy="74.8" r="3.3" fill="#1886c8"/>
<circle cx="482.1" cy="77.1" r="3.3" fill="#1886c8"/>
<circle cx="484.7" cy="77.1" r="3.3" fill="#1886c8"/>
<circle cx="487.3" cy="77.1" r="3.3" fill="#1886c8"/>
<circle cx="489.9" cy="77.1" r="3.3" fill="#1886c8"/>
<circle cx="492.5" cy="77.1" r="3.3" fill="#1886c8"/>
<circle cx="495.1" cy="77.1" r="3.3" fill="#1886c8"/>
<circle cx="497.7" cy="77.1" r="3.3" fill="#1886c8"/>
<circle cx="500.3" cy="77.1" r="3.3" fill="#1886c8"/>
<circle cx="480.8" cy="79.3" r="3.3" fill="#1886c8"/>
<circle cx="483.4" cy="79.3" r="3.3" fill="#1886c8"/>
<circle cx="486.0" cy="79.3" r="3.3" fill="#1886c8"/>
<circle cx="488.6" cy="79.3" r="3.3" fill="#1886c8"/>
<circle cx="491.2" cy="79.3" r="3.3" fill="#1886c8"/>
<circle cx="493.8" cy="79.3" r="3.3" fill="#1886c8"/>
<circle cx="496.4" cy="79.3" r="3.3" fill="#1886c8"/>
<circle cx="499.0" cy="79.3" r="3.3" fill="#1886c8"/>
<circle cx="479.5" cy="81.6" r="3.3" fill="#1886c8"/>
<circle cx="482.1" cy="81.6" r="3.3" fill="#1886c8"/>
<circle cx="484.7" cy="81.6" r="3.3" fill="#1886c8"/>
<circle cx="487.3" cy="81.6" r="3.3" fill="#1886c8"/>
<circle cx="489.9" cy="81.6" r="3.3" fill="#1886c8"/>
<circle cx="492.5" cy="81.6" r="3.3" fill="#1886c8"/>
<circle cx="495.1" cy="81.6" r="3.3" fill="#1886c8"/>
<circle cx="497.7" cy="81.6" r="3.3" fill="#1886c8"/>
<circle cx="478.2" cy="83.8" r="3.3" fill="#1886c8"/>
<circle cx="480.8" cy="83.8" r="3.3" fill="#1886c8"/>
<circle cx="483.4" cy="83.8" r="3.3" fill="#1886c8"/>
<circle cx="486.0" cy="83.8" r="3.3" fill="#1886c8"/>
<circle cx="488.6" cy="83.8" r="3.3" fill="#1886c8"/>
<circle cx="491.2" cy="83.8" r="3.3" fill="#1886c8"/>
<circle cx="493.8" cy="83.8" r="3.3" fill="#1886c8"/>
<circle cx="496.4" cy="83.8" r="3.3" fill="#1886c8"/>
<circle cx="476.9" cy="86.1" r="3.3" fill="#1886c8"/>
<circle cx="479.5" cy="86.1" r="3.3" fill="#1886c8"/>
<circle cx="482.1" cy="86.1" r="3.3" fill="#1886c8"/>
<circle cx="484.7" cy="86.1" r="3.3" fill="#1886c8"/>
<circle cx="487.3" cy="86.1" r="3.3" fill="#1886c8"/>
<circle cx="489.9" cy="86.1" r="3.3" fill="#1886c8"/>
<circle cx="492.5" cy="86.1" r="3.3" fill="#1886c8"/>
<circle cx="495.1" cy="86.1" r="3.3" fill="#1886c8"/>
<circle cx="475.6" cy="88.3" r="3.3" fill="#1886c8"/>
<circle cx="478.2" cy="88.3" r="3.3" fill="#1886c8"/>
<circle cx="480.8" cy="88.3" r="3.3" fill="#1886c8"/>
<circle cx="483.4" cy="88.3" r="3.3" fill="#1886c8"/>
<circle cx="486.0" cy="88.3" r="3.3" fill="#1886c8"/>
<circle cx="488.6" cy="88.3" r="3.3" fill="#1886c8"/>
<circle cx="491.2" cy="88.3" r="3.3" fill="#1886c8"/>
<circle cx="493.8" cy="88.3" r="3.3" fill="#1886c8"/>
<circle cx="476.9" cy="90.6" r="3.3" fill="#1886c8"/>
<circle cx="479.5" cy="90.6" r="3.3" fill="#1886c8"/>
<circle cx="482.1" cy="90.6" r="3.3" fill="#1886c8"/>
<circle cx="484.7" cy="90.6" r="3.3" fill="#1886c8"/>
<circle cx="487.3" cy="90.6" r="3.3" fill="#1886c8"/>
<circle cx="489.9" cy="90.6" r="3.3" fill="#1886c8"/>
<circle cx="492.5" cy="90.6" r="3.3" fill="#1886c8"/>
<circle cx="475.6" cy="92.8" r="3.3" fill="#1886c8"/>
<circle cx="478.2" cy="92.8" r="3.3" fill="#1886c8"/>
<circle cx="480.8" cy="92.8" r="3.3" fill="#1886c8"/>
<circle cx="483.4" cy="92.8" r="3.3" fill="#1886c8"/>
<circle cx="486.0" cy="92.8" r="3.3" fill="#1886c8"/>
<circle cx="488.6" cy="92.8" r="3.3" fill="#1886c8"/>
<circle cx="491.2" cy="92.8" r="3.3" fill="#1886c8"/>
<circle cx="450.9" cy="120" r="3.3" fill="#f78886"/>
<circle cx="425.9" cy="129.6" r="3.3" fill="#f78886"/>
<circle cx="403.8" cy="136.9" r="3.3" fill="#f78886"/>
<circle cx="409.7" cy="142.1" r="3.3" fill="#f78886"/>
<circle cx="401.6" cy="151.6" r="3.3" fill="#f78886"/>
<circle cx="397.2" cy="156" r="3.3" fill="#f78886"/>
<circle cx="403.8" cy="156.8" r="3.3" fill="#f78886"/>
<circle cx="401.8" cy="151" r="3.3" fill="#f78886"/>
<circle cx="402.5" cy="156.2" r="3.3" fill="#f78886"/>
<circle cx="398.8" cy="159.1" r="3.3" fill="#f78886"/>
<circle cx="393.7" cy="157.6" r="3.3" fill="#f78886"/>
<circle cx="390.7" cy="162.1" r="3.3" fill="#f78886"/>
<circle cx="391.5" cy="167.9" r="3.3" fill="#f78886"/>
<circle cx="398.1" cy="166.5" r="3.3" fill="#f78886"/>
<circle cx="400.3" cy="170.1" r="3.3" fill="#f78886"/>
<circle cx="394.4" cy="173.8" r="3.3" fill="#f78886"/>
<circle cx="388.5" cy="172.4" r="3.3" fill="#f78886"/>
<circle cx="389.3" cy="177.5" r="3.3" fill="#f78886"/>
<circle cx="402.5" cy="148.8" r="3.3" fill="#f78886"/>
<circle cx="388.8" cy="181.2" r="3.3" fill="#f78886"/>
<circle cx="393.2" cy="181.2" r="3.3" fill="#f78886"/>
<circle cx="388.8" cy="176.8" r="3.3" fill="#f78886"/>
<circle cx="391.8" cy="173.8" r="3.3" fill="#f78886"/>
<circle cx="389.7" cy="162.9" r="3.3" fill="#f78886"/>
<circle cx="394.1" cy="161.5" r="3.3" fill="#f78886"/>
<circle cx="398.5" cy="162.9" r="3.3" fill="#f78886"/>
<circle cx="402.9" cy="162.9" r="3.3" fill="#f78886"/>
<circle cx="400" cy="168.8" r="3.3" fill="#f78886"/>
<circle cx="402.9" cy="169.6" r="3.3" fill="#f78886"/>
<circle cx="392.6" cy="168.8" r="3.3" fill="#f78886"/>
<circle cx="389" cy="173.2" r="3.3" fill="#f78886"/>
<circle cx="394.1" cy="174.7" r="3.3" fill="#f78886"/>
<circle cx="386.8" cy="179.1" r="3.3" fill="#f78886"/>
<circle cx="391.2" cy="179.1" r="3.3" fill="#f78886"/>
<circle cx="388.2" cy="182.8" r="3.3" fill="#f78886"/>
<circle cx="462.1" cy="81.9" r="3.3" fill="#f78886"/>
<circle cx="462.1" cy="88.5" r="3.3" fill="#f78886"/>
<circle cx="461.3" cy="95.1" r="3.3" fill="#f78886"/>
<circle cx="460.6" cy="99.5" r="3.3" fill="#f78886"/>
<circle cx="467.9" cy="90.7" r="3.3" fill="#f78886"/>
<circle cx="468.7" cy="96.6" r="3.3" fill="#f78886"/>
<circle cx="467.9" cy="101.7" r="3.3" fill="#f78886"/>
<circle cx="471.6" cy="84.8" r="3.3" fill="#f78886"/>
<circle cx="475.3" cy="81.9" r="3.3" fill="#f78886"/>
<circle cx="477.5" cy="87" r="3.3" fill="#f78886"/>
<circle cx="473.8" cy="93.6" r="3.3" fill="#f78886"/>
<circle cx="476.8" cy="98.1" r="3.3" fill="#f78886"/>
<circle cx="456.2" cy="107.6" r="3.3" fill="#f78886"/>
<circle cx="459.9" cy="109.1" r="3.3" fill="#f78886"/>
<circle cx="454" cy="112.8" r="3.3" fill="#f78886"/>
<circle cx="448.8" cy="115" r="3.3" fill="#f78886"/>
<circle cx="464.3" cy="96.6" r="3.3" fill="#f78886"/>
<circle cx="472.9" cy="89.0" r="3.3" fill="#f78886"/>
<circle cx="473.8" cy="91.6" r="3.3" fill="#f78886"/>
<circle cx="474.8" cy="94.3" r="3.3" fill="#f78886"/>
<circle cx="476.9" cy="96.2" r="3.3" fill="#f78886"/>
<circle cx="479.6" cy="95.4" r="3.3" fill="#f78886"/>
<circle cx="481.7" cy="93.5" r="3.3" fill="#f78886"/>
<circle cx="484.0" cy="91.9" r="3.3" fill="#f78886"/>
<circle cx="486.4" cy="90.3" r="3.3" fill="#f78886"/>
<circle cx="488.6" cy="88.6" r="3.3" fill="#f78886"/>
<circle cx="491.0" cy="87.0" r="3.3" fill="#f78886"/>
<circle cx="493.4" cy="85.5" r="3.3" fill="#f78886"/>
<circle cx="495.4" cy="83.5" r="3.3" fill="#f78886"/>
<circle cx="496.9" cy="81.1" r="3.3" fill="#f78886"/>
<circle cx="497.8" cy="78.4" r="3.3" fill="#f78886"/>
<circle cx="499.2" cy="76.1" r="3.3" fill="#f78886"/>
<circle cx="501.0" cy="73.9" r="3.3" fill="#f78886"/>
<circle cx="503.0" cy="71.8" r="3.3" fill="#f78886"/>
<circle cx="504.8" cy="69.7" r="3.3" fill="#f78886"/>
<circle cx="506.3" cy="67.3" r="3.3" fill="#f78886"/>
<circle cx="508.1" cy="65.0" r="3.3" fill="#f78886"/>
<circle cx="509.3" cy="62.5" r="3.3" fill="#f78886"/>
<circle cx="510.3" cy="59.8" r="3.3" fill="#f78886"/>
<circle cx="511.7" cy="57.4" r="3.3" fill="#f78886"/>
<circle cx="512.4" cy="54.7" r="3.3" fill="#f78886"/>
<circle cx="511.1" cy="52.3" r="3.3" fill="#f78886"/>
<circle cx="508.5" cy="51.2" r="3.3" fill="#f78886"/>
<circle cx="505.7" cy="51.6" r="3.3" fill="#f78886"/>
<circle cx="503.2" cy="52.9" r="3.3" fill="#f78886"/>
<circle cx="500.7" cy="54.3" r="3.3" fill="#f78886"/>
<circle cx="498.4" cy="55.9" r="3.3" fill="#f78886"/>
<circle cx="496.4" cy="57.9" r="3.3" fill="#f78886"/>
<circle cx="495.0" cy="60.4" r="3.3" fill="#f78886"/>
<circle cx="493.6" cy="62.8" r="3.3" fill="#f78886"/>
<circle cx="491.8" cy="65.0" r="3.3" fill="#f78886"/>
<circle cx="489.8" cy="67.1" r="3.3" fill="#f78886"/>
<circle cx="487.6" cy="68.8" r="3.3" fill="#f78886"/>
<circle cx="485.4" cy="70.6" r="3.3" fill="#f78886"/>
<circle cx="483.3" cy="72.5" r="3.3" fill="#f78886"/>
<circle cx="481.5" cy="74.8" r="3.3" fill="#f78886"/>
<circle cx="479.4" cy="76.6" r="3.3" fill="#f78886"/>
<circle cx="477.4" cy="78.6" r="3.3" fill="#f78886"/>
<circle cx="476.1" cy="81.1" r="3.3" fill="#f78886"/>
<circle cx="474.7" cy="83.6" r="3.3" fill="#f78886"/>
<circle cx="473.7" cy="86.2" r="3.3" fill="#f78886"/>
<circle cx="505.4" cy="53.4" r="3.3" fill="#f78886"/>
<circle cx="508.0" cy="53.4" r="3.3" fill="#f78886"/>
<circle cx="501.5" cy="55.7" r="3.3" fill="#f78886"/>
<circle cx="504.1" cy="55.7" r="3.3" fill="#f78886"/>
<circle cx="506.7" cy="55.7" r="3.3" fill="#f78886"/>
<circle cx="509.3" cy="55.7" r="3.3" fill="#f78886"/>
<circle cx="500.2" cy="57.9" r="3.3" fill="#f78886"/>
<circle cx="502.8" cy="57.9" r="3.3" fill="#f78886"/>
<circle cx="505.4" cy="57.9" r="3.3" fill="#f78886"/>
<circle cx="508.0" cy="57.9" r="3.3" fill="#f78886"/>
<circle cx="498.9" cy="60.2" r="3.3" fill="#f78886"/>
<circle cx="501.5" cy="60.2" r="3.3" fill="#f78886"/>
<circle cx="504.1" cy="60.2" r="3.3" fill="#f78886"/>
<circle cx="506.7" cy="60.2" r="3.3" fill="#f78886"/>
<circle cx="497.6" cy="62.4" r="3.3" fill="#f78886"/>
<circle cx="500.2" cy="62.4" r="3.3" fill="#f78886"/>
<circle cx="502.8" cy="62.4" r="3.3" fill="#f78886"/>
<circle cx="505.4" cy="62.4" r="3.3" fill="#f78886"/>
<circle cx="496.3" cy="64.7" r="3.3" fill="#f78886"/>
<circle cx="498.9" cy="64.7" r="3.3" fill="#f78886"/>
<circle cx="501.5" cy="64.7" r="3.3" fill="#f78886"/>
<circle cx="504.1" cy="64.7" r="3.3" fill="#f78886"/>
<circle cx="492.4" cy="66.9" r="3.3" fill="#f78886"/>
<circle cx="495.0" cy="66.9" r="3.3" fill="#f78886"/>
<circle cx="497.6" cy="66.9" r="3.3" fill="#f78886"/>
<circle cx="500.2" cy="66.9" r="3.3" fill="#f78886"/>
<circle cx="502.8" cy="66.9" r="3.3" fill="#f78886"/>
<circle cx="491.1" cy="69.2" r="3.3" fill="#f78886"/>
<circle cx="493.7" cy="69.2" r="3.3" fill="#f78886"/>
<circle cx="496.3" cy="69.2" r="3.3" fill="#f78886"/>
<circle cx="498.9" cy="69.2" r="3.3" fill="#f78886"/>
<circle cx="501.5" cy="69.2" r="3.3" fill="#f78886"/>
<circle cx="487.2" cy="71.4" r="3.3" fill="#f78886"/>
<circle cx="489.8" cy="71.4" r="3.3" fill="#f78886"/>
<circle cx="492.4" cy="71.4" r="3.3" fill="#f78886"/>
<circle cx="495.0" cy="71.4" r="3.3" fill="#f78886"/>
<circle cx="497.6" cy="71.4" r="3.3" fill="#f78886"/>
<circle cx="500.2" cy="71.4" r="3.3" fill="#f78886"/>
<circle cx="485.9" cy="73.7" r="3.3" fill="#f78886"/>
<circle cx="488.5" cy="73.7" r="3.3" fill="#f78886"/>
<circle cx="491.1" cy="73.7" r="3.3" fill="#f78886"/>
<circle cx="493.7" cy="73.7" r="3.3" fill="#f78886"/>
<circle cx="496.3" cy="73.7" r="3.3" fill="#f78886"/>
<circle cx="498.9" cy="73.7" r="3.3" fill="#f78886"/>
<circle cx="484.6" cy="75.9" r="3.3" fill="#f78886"/>
<circle cx="487.2" cy="75.9" r="3.3" fill="#f78886"/>
<circle cx="489.8" cy="75.9" r="3.3" fill="#f78886"/>
<circle cx="492.4" cy="75.9" r="3.3" fill="#f78886"/>
<circle cx="495.0" cy="75.9" r="3.3" fill="#f78886"/>
<circle cx="480.7" cy="78.2" r="3.3" fill="#f78886"/>
<circle cx="483.3" cy="78.2" r="3.3" fill="#f78886"/>
<circle cx="485.9" cy="78.2" r="3.3" fill="#f78886"/>
<circle cx="488.5" cy="78.2" r="3.3" fill="#f78886"/>
<circle cx="491.1" cy="78.2" r="3.3" fill="#f78886"/>
<circle cx="493.7" cy="78.2" r="3.3" fill="#f78886"/>
<circle cx="479.4" cy="80.4" r="3.3" fill="#f78886"/>
<circle cx="482.0" cy="80.4" r="3.3" fill="#f78886"/>
<circle cx="484.6" cy="80.4" r="3.3" fill="#f78886"/>
<circle cx="487.2" cy="80.4" r="3.3" fill="#f78886"/>
<circle cx="489.8" cy="80.4" r="3.3" fill="#f78886"/>
<circle cx="492.4" cy="80.4" r="3.3" fill="#f78886"/>
<circle cx="495.0" cy="80.4" r="3.3" fill="#f78886"/>
<circle cx="478.1" cy="82.7" r="3.3" fill="#f78886"/>
<circle cx="480.7" cy="82.7" r="3.3" fill="#f78886"/>
<circle cx="483.3" cy="82.7" r="3.3" fill="#f78886"/>
<circle cx="485.9" cy="82.7" r="3.3" fill="#f78886"/>
<circle cx="488.5" cy="82.7" r="3.3" fill="#f78886"/>
<circle cx="491.1" cy="82.7" r="3.3" fill="#f78886"/>
<circle cx="493.7" cy="82.7" r="3.3" fill="#f78886"/>
<circle cx="476.8" cy="84.9" r="3.3" fill="#f78886"/>
<circle cx="479.4" cy="84.9" r="3.3" fill="#f78886"/>
<circle cx="482.0" cy="84.9" r="3.3" fill="#f78886"/>
<circle cx="484.6" cy="84.9" r="3.3" fill="#f78886"/>
<circle cx="487.2" cy="84.9" r="3.3" fill="#f78886"/>
<circle cx="489.8" cy="84.9" r="3.3" fill="#f78886"/>
<circle cx="475.5" cy="87.2" r="3.3" fill="#f78886"/>
<circle cx="478.1" cy="87.2" r="3.3" fill="#f78886"/>
<circle cx="480.7" cy="87.2" r="3.3" fill="#f78886"/>
<circle cx="483.3" cy="87.2" r="3.3" fill="#f78886"/>
<circle cx="485.9" cy="87.2" r="3.3" fill="#f78886"/>
<circle cx="476.8" cy="89.4" r="3.3" fill="#f78886"/>
<circle cx="479.4" cy="89.4" r="3.3" fill="#f78886"/>
<circle cx="482.0" cy="89.4" r="3.3" fill="#f78886"/>
<circle cx="484.6" cy="89.4" r="3.3" fill="#f78886"/>
<circle cx="475.5" cy="91.7" r="3.3" fill="#f78886"/>
<circle cx="478.1" cy="91.7" r="3.3" fill="#f78886"/>
<circle cx="480.7" cy="91.7" r="3.3" fill="#f78886"/>
<circle cx="476.8" cy="93.9" r="3.3" fill="#f78886"/>
<circle cx="391.6" cy="157.5" r="3.3" fill="#f78886"/>
<circle cx="391.3" cy="160.3" r="3.3" fill="#f78886"/>
<circle cx="390.9" cy="163.1" r="3.3" fill="#f78886"/>
<circle cx="390.5" cy="165.9" r="3.3" fill="#f78886"/>
<circle cx="389.9" cy="168.6" r="3.3" fill="#f78886"/>
<circle cx="389.2" cy="171.4" r="3.3" fill="#f78886"/>
<circle cx="388.6" cy="174.1" r="3.3" fill="#f78886"/>
<circle cx="388.4" cy="176.9" r="3.3" fill="#f78886"/>
<circle cx="388.7" cy="179.7" r="3.3" fill="#f78886"/>
<circle cx="390.4" cy="181.0" r="3.3" fill="#f78886"/>
<circle cx="392.3" cy="179.5" r="3.3" fill="#f78886"/>
<circle cx="393.4" cy="177.0" r="3.3" fill="#f78886"/>
<circle cx="394.5" cy="174.4" r="3.3" fill="#f78886"/>
<circle cx="395.6" cy="171.8" r="3.3" fill="#f78886"/>
<circle cx="397.9" cy="170.3" r="3.3" fill="#f78886"/>
<circle cx="400.6" cy="169.4" r="3.3" fill="#f78886"/>
<circle cx="403.2" cy="168.5" r="3.3" fill="#f78886"/>
<circle cx="404.5" cy="166.0" r="3.3" fill="#f78886"/>
<circle cx="404.5" cy="163.2" r="3.3" fill="#f78886"/>
<circle cx="404.5" cy="160.4" r="3.3" fill="#f78886"/>
<circle cx="403.6" cy="157.8" r="3.3" fill="#f78886"/>
<circle cx="402.2" cy="155.4" r="3.3" fill="#f78886"/>
<circle cx="400.6" cy="153.1" r="3.3" fill="#f78886"/>
<circle cx="398.0" cy="152.6" r="3.3" fill="#f78886"/>
<circle cx="395.2" cy="153.3" r="3.3" fill="#f78886"/>
<circle cx="393.4" cy="155.3" r="3.3" fill="#f78886"/>
<circle cx="397.4" cy="154.7" r="3.3" fill="#f78886"/>
<circle cx="400.0" cy="154.7" r="3.3" fill="#f78886"/>
<circle cx="396.1" cy="156.9" r="3.3" fill="#f78886"/>
<circle cx="398.7" cy="156.9" r="3.3" fill="#f78886"/>
<circle cx="401.3" cy="156.9" r="3.3" fill="#f78886"/>
<circle cx="394.8" cy="159.2" r="3.3" fill="#f78886"/>
<circle cx="397.4" cy="159.2" r="3.3" fill="#f78886"/>
<circle cx="400.0" cy="159.2" r="3.3" fill="#f78886"/>
<circle cx="402.6" cy="159.2" r="3.3" fill="#f78886"/>
<circle cx="393.5" cy="161.5" r="3.3" fill="#f78886"/>
<circle cx="396.1" cy="161.5" r="3.3" fill="#f78886"/>
<circle cx="398.7" cy="161.5" r="3.3" fill="#f78886"/>
<circle cx="401.3" cy="161.5" r="3.3" fill="#f78886"/>
<circle cx="394.8" cy="163.7" r="3.3" fill="#f78886"/>
<circle cx="397.4" cy="163.7" r="3.3" fill="#f78886"/>
<circle cx="400.0" cy="163.7" r="3.3" fill="#f78886"/>
<circle cx="402.6" cy="163.7" r="3.3" fill="#f78886"/>
<circle cx="393.5" cy="166.0" r="3.3" fill="#f78886"/>
<circle cx="396.1" cy="166.0" r="3.3" fill="#f78886"/>
<circle cx="398.7" cy="166.0" r="3.3" fill="#f78886"/>
<circle cx="401.3" cy="166.0" r="3.3" fill="#f78886"/>
<circle cx="392.2" cy="168.2" r="3.3" fill="#f78886"/>
<circle cx="394.8" cy="168.2" r="3.3" fill="#f78886"/>
<circle cx="397.4" cy="168.2" r="3.3" fill="#f78886"/>
<circle cx="393.5" cy="170.5" r="3.3" fill="#f78886"/>
<circle cx="392.2" cy="172.7" r="3.3" fill="#f78886"/>
<circle cx="390.9" cy="175.0" r="3.3" fill="#f78886"/>
<polygon points="383,178.4 511,52.8 511,53.8 384,180.0" fill="#f07888" fill-opacity="0.5"/>
<line x1="383" y1="178.4" x2="511" y2="52.8" stroke="#5a4cc8" stroke-width="1.0" stroke-opacity="0.9"/>
<line x1="384" y1="180.0" x2="511" y2="53.8" stroke="#e01c4c" stroke-width="1.3" stroke-opacity="0.95"/>
</g>
<rect x="317.5" y="21.0" width="229.30" height="219.90" fill="none" stroke="#a8a8a8" stroke-width="1.2"/>
<line x1="327.60" y1="240.9" x2="327.60" y2="242.70000000000002" stroke="#a8a8a8" stroke-width="1"/>
<text x="327.60" y="253.2" class="tk" text-anchor="middle">0.0</text>
<line x1="369.38" y1="240.9" x2="369.38" y2="242.70000000000002" stroke="#a8a8a8" stroke-width="1"/>
<text x="369.38" y="253.2" class="tk" text-anchor="middle">0.2</text>
<line x1="411.16" y1="240.9" x2="411.16" y2="242.70000000000002" stroke="#a8a8a8" stroke-width="1"/>
<text x="411.16" y="253.2" class="tk" text-anchor="middle">0.4</text>
<line x1="452.94" y1="240.9" x2="452.94" y2="242.70000000000002" stroke="#a8a8a8" stroke-width="1"/>
<text x="452.94" y="253.2" class="tk" text-anchor="middle">0.6</text>
<line x1="494.72" y1="240.9" x2="494.72" y2="242.70000000000002" stroke="#a8a8a8" stroke-width="1"/>
<text x="494.72" y="253.2" class="tk" text-anchor="middle">0.8</text>
<line x1="536.50" y1="240.9" x2="536.50" y2="242.70000000000002" stroke="#a8a8a8" stroke-width="1"/>
<text x="536.50" y="253.2" class="tk" text-anchor="middle">1.0</text>
<line x1="315.7" y1="230.70" x2="317.5" y2="230.70" stroke="#a8a8a8" stroke-width="1"/>
<text x="314.3" y="235.20" class="tk" text-anchor="end">0.0</text>
<line x1="315.7" y1="190.82" x2="317.5" y2="190.82" stroke="#a8a8a8" stroke-width="1"/>
<text x="314.3" y="195.32" class="tk" text-anchor="end">0.2</text>
<line x1="315.7" y1="150.94" x2="317.5" y2="150.94" stroke="#a8a8a8" stroke-width="1"/>
<text x="314.3" y="155.44" class="tk" text-anchor="end">0.4</text>
<line x1="315.7" y1="111.06" x2="317.5" y2="111.06" stroke="#a8a8a8" stroke-width="1"/>
<text x="314.3" y="115.56" class="tk" text-anchor="end">0.6</text>
<line x1="315.7" y1="71.18" x2="317.5" y2="71.18" stroke="#a8a8a8" stroke-width="1"/>
<text x="314.3" y="75.68" class="tk" text-anchor="end">0.8</text>
<line x1="315.7" y1="31.30" x2="317.5" y2="31.30" stroke="#a8a8a8" stroke-width="1"/>
<text x="314.3" y="35.80" class="tk" text-anchor="end">1.0</text>
<text x="432.15" y="14.3" class="ti" text-anchor="middle">(b) Maize stage-2</text>
<text x="432.15" y="266.6" class="al" text-anchor="middle">Predicted NDVI-value</text>
<rect x="322.5" y="26.8" width="79.9" height="33.3" fill="#fff" fill-opacity="0.85" stroke="#9c9c9c" stroke-width="1"/>
<circle cx="327" cy="34.8" r="2.9" fill="#1886c8"/>
<circle cx="327" cy="52" r="2.9" fill="#f78886"/>
<text x="341.1" y="39.7" class="lg" fill="#1478bc">R² = 0.97</text>
<text x="341.1" y="56.7" class="lg" fill="#f27f7f">R² = 0.99</text>
<rect x="420.5" y="200.8" width="124" height="33" fill="#fff" fill-opacity="0.85" stroke="#9c9c9c" stroke-width="1"/>
<circle cx="426.2" cy="209.4" r="2.9" fill="#1886c8"/>
<circle cx="426.2" cy="226.5" r="2.9" fill="#f78886"/>
<text x="449.2" y="212.6" class="lp">Pre-optimization</text>
<text x="449.2" y="230.0" class="lp">Post-optimization</text>
<text transform="translate(14,130.7) rotate(-90)" class="al" text-anchor="middle">Measured NDVI-value</text>
<text transform="translate(294,130.7) rotate(-90)" class="al" text-anchor="middle">Measured NDVI-value</text>
</svg>
</body></html>
